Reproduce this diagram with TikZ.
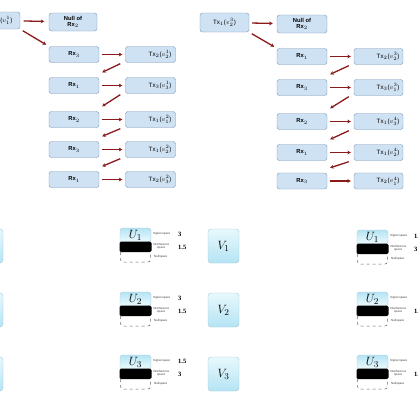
\documentclass[tikz,border=0pt]{standalone}
\usepackage{fontspec}
\setmainfont{Liberation Sans}
\newfontfamily\numfont{Liberation Serif}
\usetikzlibrary{arrows.meta,calc}
\definecolor{boxfill}{HTML}{CFE2F3}
\definecolor{boxdraw}{HTML}{7A96B4}
\definecolor{arrowred}{HTML}{8B1A1A}
\definecolor{vtop}{HTML}{E8F8FD}
\definecolor{vbot}{HTML}{B4E4F4}
\definecolor{vdraw}{HTML}{A6C8D8}
\tikzset{
  rbox/.style={draw=boxdraw, fill=boxfill, rounded corners=2.5pt, minimum width=50pt, minimum height=16pt, inner sep=0pt, align=center, font=\fontsize{5.8}{6.3}\selectfont\bfseries},
  tbox/.style={rbox, font=\fontsize{6.2}{6.5}\selectfont},
  arr/.style={draw=arrowred, line width=1.3pt, -{Stealth[length=3.5pt,width=3.8pt]}},
  vbox/.style={draw=vdraw, top color=vtop, bottom color=vbot, rounded corners=3pt, minimum width=31pt, minimum height=34pt, inner sep=0pt, font=\fontsize{13}{13}\selectfont},
  tinylab/.style={anchor=west, inner sep=0pt, text=black!75, align=center, font=\fontsize{3}{3.3}\selectfont},
  numlab/.style={anchor=west, inner sep=0pt, font=\numfont\bfseries\fontsize{6.5}{7}\selectfont},
}
\newcommand\ubx[7]{% x, y, index, name, signal num, interference num, number x-offset
  \begin{scope}[shift={(#1,#2)}]
    \path[draw=vdraw, top color=vbot, bottom color=vtop!70!white, rounded corners=3pt] (0,14) |- (15.5,0) -| (31,14) [sharp corners] -- cycle;
    \fill[black, rounded corners=1.5pt] (-0.5,13.5) rectangle (31.5,24);
    \draw[dashed, black!60, line width=0.5pt, rounded corners=2.5pt] (0.5,24) -- (0.5,34) -- (30.5,34) -- (30.5,24);
    \node[inner sep=0pt, font=\fontsize{12.5}{12.5}\selectfont] (#4) at (15.5,7) {$U_{#3}$};
    \node[tinylab] (#4s) at (33,6) {Signal space};
    \node[tinylab] (#4i) at (33,18.5) {Interference\\space};
    \node[tinylab] (#4n) at (34,29) {Nullspace};
    \node[numlab] (#4a) at (#7,6) {#5};
    \node[numlab] (#4b) at (#7,19) {#6};
  \end{scope}}
\begin{document}
\begin{tikzpicture}[x=1pt,y=-1pt]
\useasboundingbox (0,0) rectangle (418,418);
\fill[white] (0,0) rectangle (418,418);
% ---------- left tree ----------
\node[tbox, minimum width=38pt, minimum height=17pt] (ltx) at (1,20.5) {Tx$_1$($v_1^1$)};
\node[rbox, minimum width=48pt, minimum height=18pt] (lnull) at (73,22) {Null of\\Rx$_2$};
\foreach \i/\y/\r/\t in {1/54.5/3/{Tx$_2$($v_2^1$)}, 2/85.5/1/{Tx$_3$($v_3^1$)}, 3/119.5/2/{Tx$_1$($v_1^2$)}, 4/149.5/3/{Tx$_1$($v_2^2$)}, 5/179.5/1/{Tx$_2$($v_3^2$)}}{
  \node[rbox] (lr\i) at (74,\y) {Rx$_{\r}$};
  \node[tbox, text width=42pt, align=right] (lt\i) at (150.5,\y) {\t};
  \draw[arr, shorten <=2.5pt, shorten >=3pt] (lr\i) -- (lt\i);
}
\draw[arr, shorten <=3.5pt, shorten >=4.5pt] (ltx) -- (lnull);
\draw[arr, shorten <=3pt, shorten >=3pt] (ltx.south east) -- (lr1.north west);
\foreach \i/\j in {1/2,2/3,3/4,4/5}{
  \draw[arr] ($(lt\i.south west)+(-5,1)$) -- ($(lr\j.north east)+(3,-5)$);
}
% ---------- right tree ----------
\node[tbox, minimum width=49pt, minimum height=19pt] (rtx) at (224.5,22.5) {Tx$_1$($v_2^3$)};
\node[rbox, minimum width=50pt, minimum height=18pt] (rnull) at (302,24) {Null of\\Rx$_2$};
\foreach \i/\y/\r/\t in {1/56.5/1/{Tx$_2$($v_2^3$)}, 2/87.5/3/{Tx$_3$($v_1^3$)}, 3/121.5/2/{Tx$_1$($v_3^4$)}, 4/152.5/1/{Tx$_1$($v_2^4$)}, 5/181/3/{Tx$_2$($v_1^4$)}}{
  \node[rbox] (rr\i) at (302,\y) {Rx$_{\r}$};
  \node[tbox, minimum width=49pt, text width=42pt, align=right] (rt\i) at (378.5,\y) {\t};
  \draw[arr, shorten <=2.5pt, shorten >=3pt] (rr\i) -- (rt\i);
}
\draw[arr, shorten <=3pt, shorten >=4pt] (rtx) -- (rnull);
\draw[arr, shorten <=3pt, shorten >=3pt] (rtx.south east) -- (rr1.north west);
\foreach \i/\j in {1/2,2/3,3/4,4/5}{
  \draw[arr] ($(rt\i.south west)+(-5,1)$) -- ($(rr\j.north east)+(3,-5)$);
}
% ---------- bottom ----------
\node[vbox] (lv1) at (-12.5,246) {};
\node[vbox] (lv2) at (-12.5,310) {};
\node[vbox] (lv3) at (-12.5,374) {};
\node[vbox] (v1) at (223.5,246) {$V_1$};
\node[vbox] (v2) at (223.5,310) {$V_2$};
\node[vbox] (v3) at (223.5,374) {$V_3$};
\ubx{120}{228}{1}{lu1}{3}{1.5}{58}
\ubx{120}{292}{2}{lu2}{3}{1.5}{58}
\ubx{120}{355}{3}{lu3}{1.5}{3}{58}
\ubx{357}{230}{1}{ru1}{1.5}{3}{57}
\ubx{357}{292}{2}{ru2}{}{1.5}{57}
\ubx{357}{355}{3}{ru3}{}{1.5}{57}
\end{tikzpicture}
\end{document}
